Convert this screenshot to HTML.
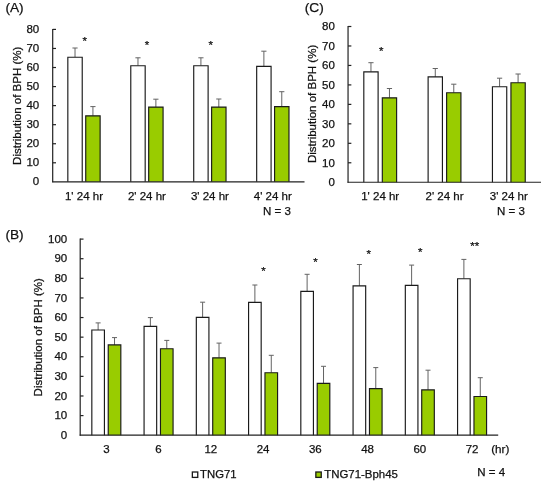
<!DOCTYPE html>
<html lang="en">
<head>
<meta charset="utf-8">
<title>Distribution of BPH</title>
<style>
html,body{margin:0;padding:0;background:#fff;}
body{width:550px;height:484px;overflow:hidden;}
svg{display:block;}
svg text{font-family:"Liberation Sans",Arial,Helvetica,sans-serif;fill:#111;stroke:#111;stroke-width:0.25px;}
</style>
</head>
<body>
<svg width="550" height="484" viewBox="0 0 550 484">
<rect x="0" y="0" width="550" height="484" fill="#fff"/>
<line x1="75.03" y1="57.20" x2="75.03" y2="48.00" stroke="#636363" stroke-width="1.0"/>
<line x1="72.43" y1="48.00" x2="77.62" y2="48.00" stroke="#636363" stroke-width="1.0"/>
<line x1="92.93" y1="115.80" x2="92.93" y2="106.60" stroke="#636363" stroke-width="1.0"/>
<line x1="90.33" y1="106.60" x2="95.53" y2="106.60" stroke="#636363" stroke-width="1.0"/>
<path d="M67.83 181.85V57.20H82.23V181.85" fill="#fff" stroke="#1a1a1a" stroke-width="1.15"/>
<path d="M85.73 181.85V115.80H100.13V181.85" fill="#99cc00" stroke="#1a1a1a" stroke-width="1.15"/>
<text x="83.98" y="199.70" text-anchor="middle" font-size="11.5" >1' 24 hr</text>
<line x1="137.97" y1="65.70" x2="137.97" y2="57.80" stroke="#636363" stroke-width="1.0"/>
<line x1="135.38" y1="57.80" x2="140.57" y2="57.80" stroke="#636363" stroke-width="1.0"/>
<line x1="155.88" y1="107.10" x2="155.88" y2="99.20" stroke="#636363" stroke-width="1.0"/>
<line x1="153.28" y1="99.20" x2="158.47" y2="99.20" stroke="#636363" stroke-width="1.0"/>
<path d="M130.78 181.85V65.70H145.18V181.85" fill="#fff" stroke="#1a1a1a" stroke-width="1.15"/>
<path d="M148.68 181.85V107.10H163.08V181.85" fill="#99cc00" stroke="#1a1a1a" stroke-width="1.15"/>
<text x="146.93" y="199.70" text-anchor="middle" font-size="11.5" >2' 24 hr</text>
<line x1="200.92" y1="65.70" x2="200.92" y2="57.80" stroke="#636363" stroke-width="1.0"/>
<line x1="198.32" y1="57.80" x2="203.52" y2="57.80" stroke="#636363" stroke-width="1.0"/>
<line x1="218.82" y1="107.10" x2="218.82" y2="99.00" stroke="#636363" stroke-width="1.0"/>
<line x1="216.22" y1="99.00" x2="221.42" y2="99.00" stroke="#636363" stroke-width="1.0"/>
<path d="M193.72 181.85V65.70H208.12V181.85" fill="#fff" stroke="#1a1a1a" stroke-width="1.15"/>
<path d="M211.62 181.85V107.10H226.03V181.85" fill="#99cc00" stroke="#1a1a1a" stroke-width="1.15"/>
<text x="209.88" y="199.70" text-anchor="middle" font-size="11.5" >3' 24 hr</text>
<line x1="263.88" y1="66.30" x2="263.88" y2="51.20" stroke="#636363" stroke-width="1.0"/>
<line x1="261.28" y1="51.20" x2="266.48" y2="51.20" stroke="#636363" stroke-width="1.0"/>
<line x1="281.78" y1="106.60" x2="281.78" y2="91.70" stroke="#636363" stroke-width="1.0"/>
<line x1="279.18" y1="91.70" x2="284.38" y2="91.70" stroke="#636363" stroke-width="1.0"/>
<path d="M256.68 181.85V66.30H271.08V181.85" fill="#fff" stroke="#1a1a1a" stroke-width="1.15"/>
<path d="M274.58 181.85V106.60H288.98V181.85" fill="#99cc00" stroke="#1a1a1a" stroke-width="1.15"/>
<text x="272.83" y="199.70" text-anchor="middle" font-size="11.5" >4' 24 hr</text>
<line x1="52.70" y1="28.90" x2="52.70" y2="182.35" stroke="#222" stroke-width="1.2"/>
<line x1="52.20" y1="181.85" x2="304.50" y2="181.85" stroke="#222" stroke-width="1.2"/>
<text x="39.20" y="185.47" text-anchor="end" font-size="11.5" >0</text>
<line x1="52.70" y1="162.79" x2="56.00" y2="162.79" stroke="#222" stroke-width="1.2"/>
<text x="39.20" y="166.41" text-anchor="end" font-size="11.5" >10</text>
<line x1="52.70" y1="143.74" x2="56.00" y2="143.74" stroke="#222" stroke-width="1.2"/>
<text x="39.20" y="147.35" text-anchor="end" font-size="11.5" >20</text>
<line x1="52.70" y1="124.68" x2="56.00" y2="124.68" stroke="#222" stroke-width="1.2"/>
<text x="39.20" y="128.30" text-anchor="end" font-size="11.5" >30</text>
<line x1="52.70" y1="105.62" x2="56.00" y2="105.62" stroke="#222" stroke-width="1.2"/>
<text x="39.20" y="109.24" text-anchor="end" font-size="11.5" >40</text>
<line x1="52.70" y1="86.57" x2="56.00" y2="86.57" stroke="#222" stroke-width="1.2"/>
<text x="39.20" y="90.19" text-anchor="end" font-size="11.5" >50</text>
<line x1="52.70" y1="67.51" x2="56.00" y2="67.51" stroke="#222" stroke-width="1.2"/>
<text x="39.20" y="71.13" text-anchor="end" font-size="11.5" >60</text>
<line x1="52.70" y1="48.46" x2="56.00" y2="48.46" stroke="#222" stroke-width="1.2"/>
<text x="39.20" y="52.07" text-anchor="end" font-size="11.5" >70</text>
<line x1="52.70" y1="29.40" x2="56.00" y2="29.40" stroke="#222" stroke-width="1.2"/>
<text x="39.20" y="33.02" text-anchor="end" font-size="11.5" >80</text>
<text transform="translate(20.90,105.80) rotate(-90)" text-anchor="middle" font-size="11.5">Distribution of BPH (%)</text>
<text x="84.70" y="44.57" text-anchor="middle" font-size="11.5" >*</text>
<text x="147.10" y="48.87" text-anchor="middle" font-size="11.5" >*</text>
<text x="210.80" y="48.87" text-anchor="middle" font-size="11.5" >*</text>
<line x1="370.96" y1="71.80" x2="370.96" y2="62.70" stroke="#636363" stroke-width="1.0"/>
<line x1="368.36" y1="62.70" x2="373.56" y2="62.70" stroke="#636363" stroke-width="1.0"/>
<line x1="389.46" y1="97.80" x2="389.46" y2="88.50" stroke="#636363" stroke-width="1.0"/>
<line x1="386.86" y1="88.50" x2="392.06" y2="88.50" stroke="#636363" stroke-width="1.0"/>
<path d="M363.81 182.25V71.80H378.11V182.25" fill="#fff" stroke="#1a1a1a" stroke-width="1.15"/>
<path d="M382.31 182.25V97.80H396.61V182.25" fill="#99cc00" stroke="#1a1a1a" stroke-width="1.15"/>
<text x="380.21" y="199.50" text-anchor="middle" font-size="11.5" >1' 24 hr</text>
<line x1="435.27" y1="76.90" x2="435.27" y2="68.50" stroke="#636363" stroke-width="1.0"/>
<line x1="432.67" y1="68.50" x2="437.87" y2="68.50" stroke="#636363" stroke-width="1.0"/>
<line x1="453.77" y1="92.70" x2="453.77" y2="84.20" stroke="#636363" stroke-width="1.0"/>
<line x1="451.17" y1="84.20" x2="456.38" y2="84.20" stroke="#636363" stroke-width="1.0"/>
<path d="M428.12 182.25V76.90H442.42V182.25" fill="#fff" stroke="#1a1a1a" stroke-width="1.15"/>
<path d="M446.62 182.25V92.70H460.93V182.25" fill="#99cc00" stroke="#1a1a1a" stroke-width="1.15"/>
<text x="444.52" y="199.50" text-anchor="middle" font-size="11.5" >2' 24 hr</text>
<line x1="499.59" y1="86.70" x2="499.59" y2="78.20" stroke="#636363" stroke-width="1.0"/>
<line x1="496.99" y1="78.20" x2="502.19" y2="78.20" stroke="#636363" stroke-width="1.0"/>
<line x1="518.09" y1="82.70" x2="518.09" y2="74.00" stroke="#636363" stroke-width="1.0"/>
<line x1="515.49" y1="74.00" x2="520.69" y2="74.00" stroke="#636363" stroke-width="1.0"/>
<path d="M492.44 182.25V86.70H506.74V182.25" fill="#fff" stroke="#1a1a1a" stroke-width="1.15"/>
<path d="M510.94 182.25V82.70H525.24V182.25" fill="#99cc00" stroke="#1a1a1a" stroke-width="1.15"/>
<text x="508.84" y="199.50" text-anchor="middle" font-size="11.5" >3' 24 hr</text>
<line x1="348.05" y1="26.00" x2="348.05" y2="182.75" stroke="#222" stroke-width="1.2"/>
<line x1="347.55" y1="182.25" x2="541.00" y2="182.25" stroke="#222" stroke-width="1.2"/>
<text x="334.90" y="185.97" text-anchor="end" font-size="11.5" >0</text>
<line x1="348.05" y1="162.78" x2="351.35" y2="162.78" stroke="#222" stroke-width="1.2"/>
<text x="334.90" y="166.50" text-anchor="end" font-size="11.5" >10</text>
<line x1="348.05" y1="143.31" x2="351.35" y2="143.31" stroke="#222" stroke-width="1.2"/>
<text x="334.90" y="147.03" text-anchor="end" font-size="11.5" >20</text>
<line x1="348.05" y1="123.84" x2="351.35" y2="123.84" stroke="#222" stroke-width="1.2"/>
<text x="334.90" y="127.56" text-anchor="end" font-size="11.5" >30</text>
<line x1="348.05" y1="104.38" x2="351.35" y2="104.38" stroke="#222" stroke-width="1.2"/>
<text x="334.90" y="108.09" text-anchor="end" font-size="11.5" >40</text>
<line x1="348.05" y1="84.91" x2="351.35" y2="84.91" stroke="#222" stroke-width="1.2"/>
<text x="334.90" y="88.62" text-anchor="end" font-size="11.5" >50</text>
<line x1="348.05" y1="65.44" x2="351.35" y2="65.44" stroke="#222" stroke-width="1.2"/>
<text x="334.90" y="69.15" text-anchor="end" font-size="11.5" >60</text>
<line x1="348.05" y1="45.97" x2="351.35" y2="45.97" stroke="#222" stroke-width="1.2"/>
<text x="334.90" y="49.69" text-anchor="end" font-size="11.5" >70</text>
<line x1="348.05" y1="26.50" x2="351.35" y2="26.50" stroke="#222" stroke-width="1.2"/>
<text x="334.90" y="30.22" text-anchor="end" font-size="11.5" >80</text>
<text transform="translate(316.40,103.90) rotate(-90)" text-anchor="middle" font-size="11.5">Distribution of BPH (%)</text>
<text x="381.30" y="54.87" text-anchor="middle" font-size="11.5" >*</text>
<line x1="98.12" y1="330.00" x2="98.12" y2="322.90" stroke="#636363" stroke-width="1.0"/>
<line x1="95.62" y1="322.90" x2="100.62" y2="322.90" stroke="#636363" stroke-width="1.0"/>
<line x1="114.53" y1="344.90" x2="114.53" y2="337.60" stroke="#636363" stroke-width="1.0"/>
<line x1="112.03" y1="337.60" x2="117.03" y2="337.60" stroke="#636363" stroke-width="1.0"/>
<path d="M91.83 435.20V330.00H104.42V435.20" fill="#fff" stroke="#1a1a1a" stroke-width="1.15"/>
<path d="M108.23 435.20V344.90H120.83V435.20" fill="#99cc00" stroke="#1a1a1a" stroke-width="1.15"/>
<text x="106.33" y="453.00" text-anchor="middle" font-size="11.5" >3</text>
<line x1="150.38" y1="326.40" x2="150.38" y2="317.60" stroke="#636363" stroke-width="1.0"/>
<line x1="147.88" y1="317.60" x2="152.88" y2="317.60" stroke="#636363" stroke-width="1.0"/>
<line x1="166.78" y1="348.70" x2="166.78" y2="340.40" stroke="#636363" stroke-width="1.0"/>
<line x1="164.28" y1="340.40" x2="169.28" y2="340.40" stroke="#636363" stroke-width="1.0"/>
<path d="M144.07 435.20V326.40H156.67V435.20" fill="#fff" stroke="#1a1a1a" stroke-width="1.15"/>
<path d="M160.47 435.20V348.70H173.07V435.20" fill="#99cc00" stroke="#1a1a1a" stroke-width="1.15"/>
<text x="158.57" y="453.00" text-anchor="middle" font-size="11.5" >6</text>
<line x1="202.62" y1="317.30" x2="202.62" y2="302.20" stroke="#636363" stroke-width="1.0"/>
<line x1="200.12" y1="302.20" x2="205.12" y2="302.20" stroke="#636363" stroke-width="1.0"/>
<line x1="219.03" y1="357.80" x2="219.03" y2="343.10" stroke="#636363" stroke-width="1.0"/>
<line x1="216.53" y1="343.10" x2="221.53" y2="343.10" stroke="#636363" stroke-width="1.0"/>
<path d="M196.32 435.20V317.30H208.92V435.20" fill="#fff" stroke="#1a1a1a" stroke-width="1.15"/>
<path d="M212.72 435.20V357.80H225.32V435.20" fill="#99cc00" stroke="#1a1a1a" stroke-width="1.15"/>
<text x="210.82" y="453.00" text-anchor="middle" font-size="11.5" >12</text>
<line x1="254.88" y1="302.40" x2="254.88" y2="285.00" stroke="#636363" stroke-width="1.0"/>
<line x1="252.38" y1="285.00" x2="257.38" y2="285.00" stroke="#636363" stroke-width="1.0"/>
<line x1="271.27" y1="372.70" x2="271.27" y2="355.30" stroke="#636363" stroke-width="1.0"/>
<line x1="268.77" y1="355.30" x2="273.77" y2="355.30" stroke="#636363" stroke-width="1.0"/>
<path d="M248.58 435.20V302.40H261.18V435.20" fill="#fff" stroke="#1a1a1a" stroke-width="1.15"/>
<path d="M264.97 435.20V372.70H277.57V435.20" fill="#99cc00" stroke="#1a1a1a" stroke-width="1.15"/>
<text x="263.07" y="453.00" text-anchor="middle" font-size="11.5" >24</text>
<line x1="307.12" y1="291.40" x2="307.12" y2="274.30" stroke="#636363" stroke-width="1.0"/>
<line x1="304.62" y1="274.30" x2="309.62" y2="274.30" stroke="#636363" stroke-width="1.0"/>
<line x1="323.52" y1="383.40" x2="323.52" y2="366.30" stroke="#636363" stroke-width="1.0"/>
<line x1="321.02" y1="366.30" x2="326.02" y2="366.30" stroke="#636363" stroke-width="1.0"/>
<path d="M300.82 435.20V291.40H313.43V435.20" fill="#fff" stroke="#1a1a1a" stroke-width="1.15"/>
<path d="M317.22 435.20V383.40H329.82V435.20" fill="#99cc00" stroke="#1a1a1a" stroke-width="1.15"/>
<text x="315.32" y="453.00" text-anchor="middle" font-size="11.5" >36</text>
<line x1="359.38" y1="285.90" x2="359.38" y2="264.50" stroke="#636363" stroke-width="1.0"/>
<line x1="356.88" y1="264.50" x2="361.88" y2="264.50" stroke="#636363" stroke-width="1.0"/>
<line x1="375.77" y1="388.60" x2="375.77" y2="367.60" stroke="#636363" stroke-width="1.0"/>
<line x1="373.27" y1="367.60" x2="378.27" y2="367.60" stroke="#636363" stroke-width="1.0"/>
<path d="M353.07 435.20V285.90H365.68V435.20" fill="#fff" stroke="#1a1a1a" stroke-width="1.15"/>
<path d="M369.47 435.20V388.60H382.07V435.20" fill="#99cc00" stroke="#1a1a1a" stroke-width="1.15"/>
<text x="367.57" y="453.00" text-anchor="middle" font-size="11.5" >48</text>
<line x1="411.62" y1="285.30" x2="411.62" y2="265.10" stroke="#636363" stroke-width="1.0"/>
<line x1="409.12" y1="265.10" x2="414.12" y2="265.10" stroke="#636363" stroke-width="1.0"/>
<line x1="428.02" y1="389.90" x2="428.02" y2="370.20" stroke="#636363" stroke-width="1.0"/>
<line x1="425.52" y1="370.20" x2="430.52" y2="370.20" stroke="#636363" stroke-width="1.0"/>
<path d="M405.32 435.20V285.30H417.93V435.20" fill="#fff" stroke="#1a1a1a" stroke-width="1.15"/>
<path d="M421.72 435.20V389.90H434.32V435.20" fill="#99cc00" stroke="#1a1a1a" stroke-width="1.15"/>
<text x="419.82" y="453.00" text-anchor="middle" font-size="11.5" >60</text>
<line x1="463.88" y1="278.70" x2="463.88" y2="259.40" stroke="#636363" stroke-width="1.0"/>
<line x1="461.38" y1="259.40" x2="466.38" y2="259.40" stroke="#636363" stroke-width="1.0"/>
<line x1="480.27" y1="396.50" x2="480.27" y2="377.70" stroke="#636363" stroke-width="1.0"/>
<line x1="477.77" y1="377.70" x2="482.77" y2="377.70" stroke="#636363" stroke-width="1.0"/>
<path d="M457.57 435.20V278.70H470.18V435.20" fill="#fff" stroke="#1a1a1a" stroke-width="1.15"/>
<path d="M473.97 435.20V396.50H486.57V435.20" fill="#99cc00" stroke="#1a1a1a" stroke-width="1.15"/>
<text x="472.07" y="453.00" text-anchor="middle" font-size="11.5" >72</text>
<line x1="80.20" y1="238.60" x2="80.20" y2="435.70" stroke="#222" stroke-width="1.2"/>
<line x1="79.70" y1="435.20" x2="498.20" y2="435.20" stroke="#222" stroke-width="1.2"/>
<text x="67.20" y="438.92" text-anchor="end" font-size="11.5" >0</text>
<line x1="80.20" y1="415.59" x2="83.50" y2="415.59" stroke="#222" stroke-width="1.2"/>
<text x="67.20" y="419.31" text-anchor="end" font-size="11.5" >10</text>
<line x1="80.20" y1="395.98" x2="83.50" y2="395.98" stroke="#222" stroke-width="1.2"/>
<text x="67.20" y="399.70" text-anchor="end" font-size="11.5" >20</text>
<line x1="80.20" y1="376.37" x2="83.50" y2="376.37" stroke="#222" stroke-width="1.2"/>
<text x="67.20" y="380.09" text-anchor="end" font-size="11.5" >30</text>
<line x1="80.20" y1="356.76" x2="83.50" y2="356.76" stroke="#222" stroke-width="1.2"/>
<text x="67.20" y="360.48" text-anchor="end" font-size="11.5" >40</text>
<line x1="80.20" y1="337.15" x2="83.50" y2="337.15" stroke="#222" stroke-width="1.2"/>
<text x="67.20" y="340.87" text-anchor="end" font-size="11.5" >50</text>
<line x1="80.20" y1="317.54" x2="83.50" y2="317.54" stroke="#222" stroke-width="1.2"/>
<text x="67.20" y="321.26" text-anchor="end" font-size="11.5" >60</text>
<line x1="80.20" y1="297.93" x2="83.50" y2="297.93" stroke="#222" stroke-width="1.2"/>
<text x="67.20" y="301.65" text-anchor="end" font-size="11.5" >70</text>
<line x1="80.20" y1="278.32" x2="83.50" y2="278.32" stroke="#222" stroke-width="1.2"/>
<text x="67.20" y="282.04" text-anchor="end" font-size="11.5" >80</text>
<line x1="80.20" y1="258.71" x2="83.50" y2="258.71" stroke="#222" stroke-width="1.2"/>
<text x="67.20" y="262.43" text-anchor="end" font-size="11.5" >90</text>
<line x1="80.20" y1="239.10" x2="83.50" y2="239.10" stroke="#222" stroke-width="1.2"/>
<text x="67.20" y="242.82" text-anchor="end" font-size="11.5" >100</text>
<text transform="translate(42.10,337.30) rotate(-90)" text-anchor="middle" font-size="11.5">Distribution of BPH (%)</text>
<text x="263.50" y="275.47" text-anchor="middle" font-size="11.5" >*</text>
<text x="315.50" y="266.27" text-anchor="middle" font-size="11.5" >*</text>
<text x="368.70" y="257.77" text-anchor="middle" font-size="11.5" >*</text>
<text x="420.20" y="255.57" text-anchor="middle" font-size="11.5" >*</text>
<text x="474.80" y="249.77" text-anchor="middle" font-size="11.5" >**</text>
<text x="5.40" y="12.30" text-anchor="start" font-size="13.7" >(A)</text>
<text x="304.80" y="12.20" text-anchor="start" font-size="13.7" >(C)</text>
<text x="5.40" y="239.00" text-anchor="start" font-size="13.7" >(B)</text>
<text x="277.00" y="215.20" text-anchor="middle" font-size="11.5" >N = 3</text>
<text x="511.00" y="214.90" text-anchor="middle" font-size="11.5" >N = 3</text>
<text x="491.20" y="476.00" text-anchor="middle" font-size="11.5" >N = 4</text>
<text x="500.30" y="453.20" text-anchor="middle" font-size="11.7" >(hr)</text>
<rect x="192.35" y="472.0" width="5.4" height="5.4" fill="#fff" stroke="#1a1a1a" stroke-width="1.3"/>
<text x="200.10" y="478.10" text-anchor="start" font-size="11.3" >TNG71</text>
<rect x="315.85" y="472.0" width="5.4" height="5.4" fill="#99cc00" stroke="#1a1a1a" stroke-width="1.3"/>
<text x="324.20" y="478.20" text-anchor="start" font-size="11.45" >TNG71-Bph45</text>
</svg>
</body>
</html>
